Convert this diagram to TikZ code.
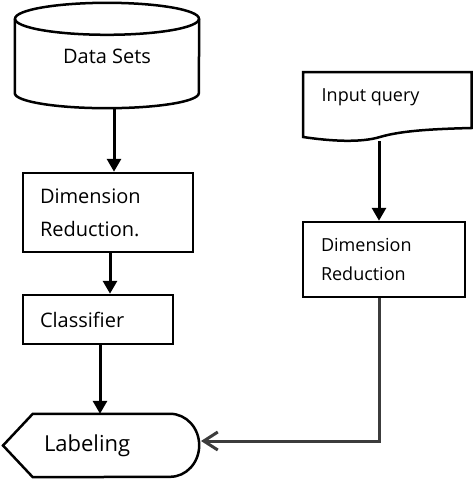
\documentclass[tikz,border=0pt]{standalone}
\usepackage{fontspec}
\setmainfont{Open Sans}
\usetikzlibrary{arrows.meta}
\definecolor{conn}{RGB}{60,60,60}
\begin{document}
\begin{tikzpicture}[x=1pt,y=-1pt,
  shp/.style={draw=black,line width=2.5pt},
  box/.style={shp,rectangle,align=left,inner ysep=0pt},
  big/.style={font=\fontsize{20}{33}\selectfont},
  small/.style={font=\fontsize{18}{29.5}\selectfont},
  arr/.style={line width=3pt,-{Triangle[width=14pt,length=13pt]}},
  garr/.style={draw=conn,line width=3pt,-{Straight Barb[width=18pt,length=14pt]}}]
\useasboundingbox (0,0) rectangle (474,479);

% Data Sets cylinder
\node[big,inner sep=0pt,minimum width=184pt,minimum height=74pt] (ds) at (107,56) {Data Sets};
\draw[shp] (ds.north west) -- (ds.south west) arc[start angle=180,end angle=0,x radius=92,y radius=15] -- (ds.north east);
\draw[shp] (ds.north) ellipse[x radius=92,y radius=16];

% left boxes
\node[box,big,text width=136pt,inner xsep=17pt,minimum height=79pt] (dr1) at (108,212.5) {Dimension\\Reduction.};
\node[box,big,text width=116pt,inner xsep=17pt,minimum height=49pt] (cl) at (98,319.5) {Classifier};

% Labeling display shape
\node[font=\fontsize{22}{26}\selectfont,align=left,text width=115pt,inner xsep=11pt,inner ysep=0pt,minimum width=137pt,minimum height=63pt] (lab) at (101.5,445.5) {Labeling};
\draw[shp] (3,445.5) -- (lab.north west) -- (lab.north east)
  arc[start angle=-90,end angle=90,x radius=29,y radius=31.5] -- (lab.south west) -- cycle;

% Input query document shape
\draw[shp] (303,72) -- (471.5,72) -- (471.5,128)
  .. controls (430,129) and (400,131) .. (380,137)
  .. controls (360,143) and (330,141) .. (303,137) -- cycle;
\node[small,anchor=base west,inner sep=0pt] (iq) at (321.5,101.7) {Input query};

% right box
\node[box,small,text width=126pt,inner xsep=18pt,minimum height=75pt] (dr2) at (384,259.5) {Dimension\\Reduction};

% connectors
\coordinate (dsb) at (114,108);
\coordinate (c2) at (110,0);
\coordinate (c3) at (100,0);
\coordinate (iqb) at (379,141);
\coordinate (labr) at (201,441);
\draw[arr] (dsb) -- (dr1.north -| dsb);
\draw[arr] (dr1.south -| c2) -- (cl.north -| c2);
\draw[arr] (cl.south -| c3) -- (lab.north -| c3);
\draw[arr] (iqb) -- (dr2.north -| iqb);
\draw[garr] (dr2.south -| iqb) -- (iqb |- labr) -- (labr);
\end{tikzpicture}
\end{document}
